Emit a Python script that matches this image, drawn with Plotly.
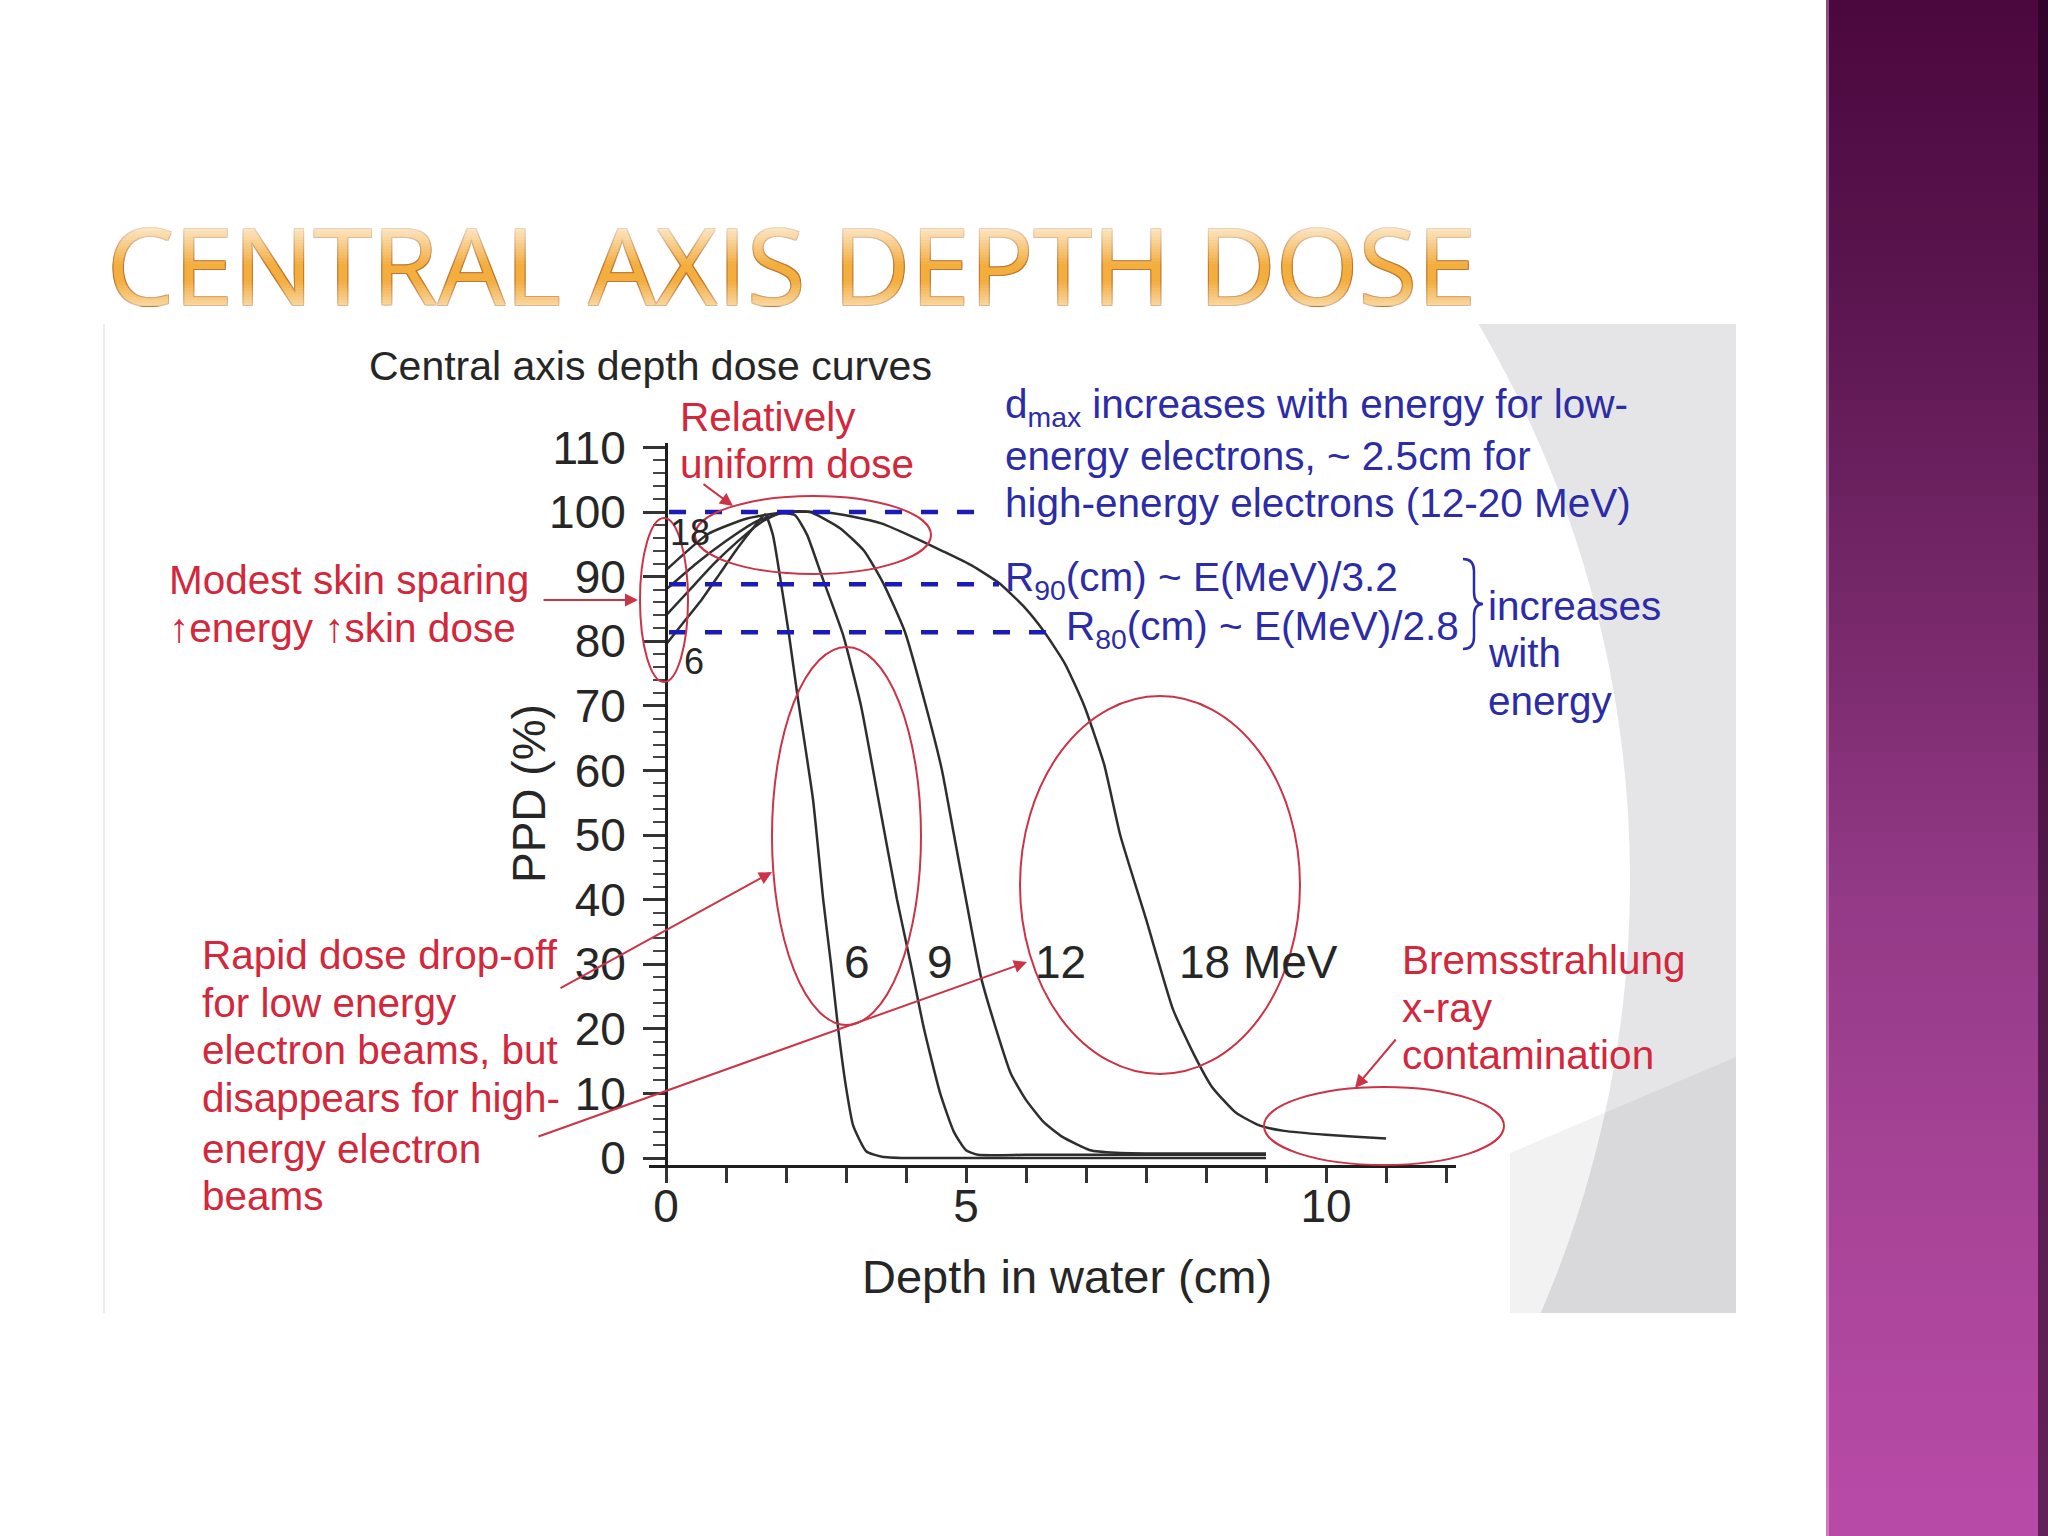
import math
import plotly.graph_objects as go

W, H = 2048, 1536


def PX(x):
    return x / W


def PY(y):
    return 1 - y / H


FONT = "Liberation Sans, Arial, sans-serif"
RED = "#D3273C"
RED_LINE = "#CC3347"
BLUE = "#2C2CA6"
DASHBLUE = "#1B1BB8"
INK = "#262626"
CURVE = "#2e2e2e"

# ---------------- data ----------------
energy_labels = ["6", "9", "12", "18 MeV"]

depth_6 = [0.0, 0.3, 0.6, 0.9, 1.2, 1.45, 1.65, 1.78, 1.9, 2.05, 2.2, 2.45, 2.62, 2.75,
           2.87, 3.0, 3.12, 3.34, 3.6, 4.0, 5.0, 6.0, 7.0, 8.0, 9.0, 10.0]
ppd_6 = [79.5, 83, 86.5, 90.5, 94.5, 97.5, 99.6, 96.5, 90, 81, 71, 55.5, 40, 30,
         20, 11, 5, 1, 0.2, 0, 0, 0, 0, 0, 0, 0]

depth_9 = [0.0, 0.4, 0.8, 1.2, 1.6, 1.9, 2.15, 2.35, 2.6, 2.95, 3.25, 3.55, 3.85, 4.08,
           4.3, 4.57, 4.8, 5.0, 5.2, 6.0, 7.0, 8.0, 9.0, 10.0]
ppd_9 = [84, 88, 92, 95.5, 98.5, 99.8, 99.5, 96.5, 90, 81, 70, 55, 40, 30,
         20, 10, 4, 1.2, 0.5, 0.5, 0.5, 0.5, 0.5, 0.5]

depth_12 = [0.0, 0.5, 1.0, 1.5, 2.0, 2.4, 2.9, 3.3, 3.62, 3.98, 4.33, 4.6, 4.8, 5.0,
            5.25, 5.5, 5.75, 6.0, 6.3, 6.6, 7.07, 7.5, 8.0, 9.0, 10.0]
ppd_12 = [88, 92, 95.5, 98.5, 100, 100, 97.5, 94, 89, 81.5, 70, 60, 50, 40,
          28, 20, 13, 9, 5.5, 3.3, 1.2, 0.8, 0.7, 0.7, 0.7]

depth_18 = [0.0, 0.7, 1.35, 2.0, 2.6, 3.1, 3.6, 4.1, 4.6, 5.1, 5.55, 5.95, 6.3, 6.65,
            6.97, 7.3, 7.57, 8.0, 8.45, 8.8, 9.1, 9.5, 9.9, 10.3, 11.0, 11.5, 12.0]
ppd_18 = [91, 96.6, 99, 100, 100, 99.3, 98.2, 96.2, 94.0, 91.7, 89, 85.5, 81.5, 76.5,
          70, 61, 50, 37, 23, 16, 11, 7, 5, 4.2, 3.6, 3.3, 3.0]

ref_levels = [100, 88.8, 81.4]          # dmax, R90, R80 guide lines (%)
ref_level_end = [5.45, 5.55, 6.43]      # depth where each guide line stops

y_tick_values = list(range(0, 111, 10))
x_tick_values = list(range(0, 14))
x_tick_labels = ["0", "", "", "", "", "5", "", "", "", "", "", "10", "", ""]

slide_title = "CENTRAL AXIS DEPTH DOSE"

# ---------------- axes placement (pixels) ----------------
X0, UX = 666, 60.0
Y0, UY = 1158, 6.46
x_range = [(649 - X0) / UX, (1456 - X0) / UX]
y_range = [(Y0 - 1165) / UY, (Y0 - 443) / UY]

fig = go.Figure()

curves = [(depth_6, ppd_6), (depth_9, ppd_9), (depth_12, ppd_12), (depth_18, ppd_18)]
for (dx, dy), name in zip(curves, energy_labels):
    fig.add_trace(go.Scatter(x=dx, y=dy, mode="lines", name=name,
                             line=dict(color=CURVE, width=2.5, shape="spline", smoothing=0.5),
                             hoverinfo="skip"))

for lvl, xe in zip(ref_levels, ref_level_end):
    fig.add_trace(go.Scatter(x=[0.05, xe], y=[lvl, lvl], mode="lines",
                             line=dict(color=DASHBLUE, width=4.5, dash="17px,19px"),
                             hoverinfo="skip"))

# slide title as text on a full-page overlay axis (so a gradient veil can sit above it)
fig.add_trace(go.Scatter(x=[107], y=[278], mode="text", text=[slide_title],
                         textposition="middle right", xaxis="x2", yaxis="y2",
                         textfont=dict(family="Open Sans", size=106.5, color="#F3AE3E",
                                       shadow="1px 1px 0 #BE7632, -1px -1px 0 #BE7632, 1px -1px 0 #BE7632, -1px 1px 0 #BE7632"),
                         hoverinfo="skip", cliponaxis=False))

shapes = []

# gradient veil over the title (white, varying opacity)
for i in range(14):
    y = 222 + i * 3
    a = 0.78 * (1 - i / 14)
    shapes.append(dict(type="rect", xref="paper", yref="paper", x0=PX(100), x1=PX(1500),
                       y0=PY(y + 3), y1=PY(y), fillcolor="rgba(255,255,255,{:.3f})".format(a),
                       line=dict(width=0), layer="above"))
for i in range(8):
    y = 282 + i * 3
    a = 0.06 * (i + 1)
    shapes.append(dict(type="rect", xref="paper", yref="paper", x0=PX(100), x1=PX(1500),
                       y0=PY(y + 3), y1=PY(y), fillcolor="rgba(255,255,255,{:.3f})".format(a),
                       line=dict(width=0), layer="above"))

# chart panel: grey region outside a large circle on the right
cx, cy, r = 535.0, 880.0, 1095.0
pts = []
yy = 1313
while yy >= 324:
    pts.append((cx + math.sqrt(r * r - (yy - cy) ** 2), yy))
    yy -= 15
pts.append((cx + math.sqrt(r * r - (324 - cy) ** 2), 324))
path = "M {},{} L {},{} L {},{} ".format(PX(pts[-1][0]), PY(324), PX(1736), PY(324), PX(1736), PY(1313))
path += " ".join("L {},{}".format(PX(px), PY(py)) for px, py in pts) + " Z"
shapes.append(dict(type="path", path=path, xref="paper", yref="paper",
                   fillcolor="#E5E5E7", line=dict(width=0), layer="below"))
facet = "M {},{} L {},{} L {},{} L {},{} Z".format(PX(1510), PY(1153), PX(1736), PY(1057),
                                                    PX(1736), PY(1313), PX(1510), PY(1313))
shapes.append(dict(type="path", path=facet, xref="paper", yref="paper",
                   fillcolor="rgba(0,0,0,0.05)", line=dict(width=0), layer="below"))
shapes.append(dict(type="line", xref="paper", yref="paper", x0=PX(104), x1=PX(104),
                   y0=PY(324), y1=PY(1313), line=dict(color="#ECECEC", width=2), layer="below"))

# purple side bar with vertical gradient
stops = [(0, (75, 8, 62)), (300, (92, 22, 80)), (600, (118, 40, 105)),
         (900, (148, 58, 135)), (1200, (168, 68, 152)), (1536, (185, 75, 168))]


def purple(y):
    for (ya, ca), (yb, cb) in zip(stops[:-1], stops[1:]):
        if ya <= y <= yb:
            t = (y - ya) / (yb - ya)
            return "rgb({},{},{})".format(*[int(a + (b - a) * t) for a, b in zip(ca, cb)])
    return "rgb(185,75,168)"


band = 16
for y in range(0, H, band):
    shapes.append(dict(type="rect", xref="paper", yref="paper", x0=PX(1826), x1=1,
                       y0=max(0, PY(y + band + 1)), y1=PY(y), fillcolor=purple(y + band / 2),
                       line=dict(width=0), layer="below"))
shapes.append(dict(type="rect", xref="paper", yref="paper", x0=PX(2038), x1=1, y0=0, y1=1,
                   fillcolor="rgba(30,0,25,0.55)", line=dict(width=0), layer="below"))
shapes.append(dict(type="rect", xref="paper", yref="paper", x0=PX(1826), x1=PX(1829), y0=0, y1=1,
                   fillcolor="rgba(255,210,250,0.35)", line=dict(width=0), layer="below"))

# red ellipses


def ellipse(x0, y0, x1, y1):
    return dict(type="circle", xref="paper", yref="paper", x0=PX(x0), x1=PX(x1),
                y0=PY(y1), y1=PY(y0), line=dict(color=RED_LINE, width=2), fillcolor="rgba(0,0,0,0)")


shapes += [ellipse(640, 518, 688, 682), ellipse(695, 496, 931, 574),
           ellipse(772, 647, 921, 1025), ellipse(1020, 696, 1300, 1074),
           ellipse(1264, 1087, 1504, 1165)]

# blue brace


def P(x, y):
    return "{},{}".format(PX(x), PY(y))


brace = ("M " + P(1463, 559) + " Q " + P(1474, 559) + " " + P(1474, 571) +
         " L " + P(1474, 592) + " Q " + P(1474, 604) + " " + P(1483, 604) +
         " Q " + P(1474, 604) + " " + P(1474, 616) + " L " + P(1474, 637) +
         " Q " + P(1474, 649) + " " + P(1463, 649))
shapes.append(dict(type="path", path=brace, xref="paper", yref="paper",
                   line=dict(color=BLUE, width=2.5)))

annotations = []


def txt(s, x, y, size, color, xanchor="left", family=FONT, **kw):
    return dict(text=s, x=PX(x), y=PY(y), xref="paper", yref="paper", xanchor=xanchor,
                yanchor="middle", showarrow=False,
                font=dict(family=family, size=size, color=color), **kw)


def arrow(tail, head):
    return dict(x=PX(head[0]), y=PY(head[1]), xref="paper", yref="paper",
                ax=tail[0] - head[0], ay=tail[1] - head[1], axref="pixel", ayref="pixel",
                showarrow=True, arrowhead=2, arrowsize=1.3, arrowwidth=2,
                arrowcolor=RED_LINE, text="", standoff=0)


annotations.append(txt("Central axis depth dose curves", 650, 366, 41, INK, xanchor="center"))

# red notes
for s, x, y in [("Relatively", 678, 417), ("uniform dose", 678, 464),
                ("Modest skin sparing", 167, 580), ("\u2191energy \u2191skin dose", 167, 628),
                ("Rapid dose drop-off", 200, 955), ("for low energy", 200, 1003),
                ("electron beams, but", 200, 1050), ("disappears for high-", 200, 1098),
                ("energy electron", 200, 1149), ("beams", 200, 1196),
                ("Bremsstrahlung", 1400, 960), ("x-ray", 1400, 1008),
                ("contamination", 1400, 1055)]:
    annotations.append(txt(s, x, y, 40.5, RED))

# blue notes
for s, x, y in [("d<sub>max</sub> increases with energy for low-", 1003, 407),
                ("energy electrons, ~ 2.5cm for", 1003, 456),
                ("high-energy electrons (12-20 MeV)", 1003, 503),
                ("R<sub>90</sub>(cm) ~ E(MeV)/3.2", 1003, 580),
                ("R<sub>80</sub>(cm) ~ E(MeV)/2.8", 1064, 629),
                ("increases", 1486, 606), ("with", 1486, 653), ("energy", 1486, 701)]:
    annotations.append(txt(s, x, y, 40.5, BLUE))

# curve labels
for s, x in zip(energy_labels, [857, 940, 1060, 1258]):
    annotations.append(txt(s, x, 962, 46, INK, xanchor="center"))
annotations.append(txt("18", 690, 533, 36, INK, xanchor="center"))
annotations.append(txt("6", 694, 662, 36, INK, xanchor="center"))

# axis titles
annotations.append(txt("Depth in water (cm)", 1067, 1276, 47, INK, xanchor="center"))
annotations.append(txt("PPD (%)", 529, 794, 46, INK, xanchor="center", textangle=-90))

# arrows
annotations += [arrow((542, 600), (638, 600)), arrow((702, 483), (733, 506)),
                arrow((559, 989), (772, 872)), arrow((537, 1137), (1027, 962)),
                arrow((1397, 1038), (1355, 1088))]

fig.update_layout(
    width=W, height=H, autosize=False,
    margin=dict(l=0, r=0, t=0, b=0, pad=0, autoexpand=False),
    paper_bgcolor="white", plot_bgcolor="rgba(0,0,0,0)", showlegend=False,
    shapes=shapes, annotations=annotations,
    xaxis=dict(domain=[PX(649), PX(1456)], range=x_range, anchor="y", automargin=False,
               showline=True, linecolor="#1e1e1e", linewidth=3,
               ticks="outside", ticklen=15, tickwidth=2.5, tickcolor="#333",
               tickmode="array", tickvals=x_tick_values, ticktext=x_tick_labels,
               tickfont=dict(family=FONT, size=46, color=INK), ticklabelstandoff=-16,
               showgrid=False, zeroline=False, fixedrange=True),
    yaxis=dict(domain=[PY(1165), PY(443)], range=y_range, anchor="free", position=PX(666),
               automargin=False,
               showline=True, linecolor="#1e1e1e", linewidth=3,
               ticks="outside", ticklen=22, tickwidth=2.5, tickcolor="#333",
               tickmode="array", tickvals=y_tick_values,
               minor=dict(ticks="outside", ticklen=12, dtick=2, tick0=0, tickwidth=2, tickcolor="#444"),
               tickfont=dict(family=FONT, size=46, color=INK), ticklabelstandoff=8,
               showgrid=False, zeroline=False, fixedrange=True),
    xaxis2=dict(domain=[0, 1], range=[0, W], anchor="y2", visible=False, fixedrange=True),
    yaxis2=dict(domain=[0, 1], range=[H, 0], anchor="x2", visible=False, fixedrange=True),
)

fig.write_html(
    "out.html",
    config={"displayModeBar": False},
    post_script=(
        "document.documentElement.style.margin='0px';"
        "document.body.style.margin='0px';document.body.style.padding='0px';"
        "document.documentElement.style.overflow='hidden';document.body.style.overflow='hidden';"
        "var gd=document.getElementsByClassName('plotly-graph-div')[0];"
        "gd.style.position='fixed';gd.style.top='0px';gd.style.left='0px';"
    ),
)
